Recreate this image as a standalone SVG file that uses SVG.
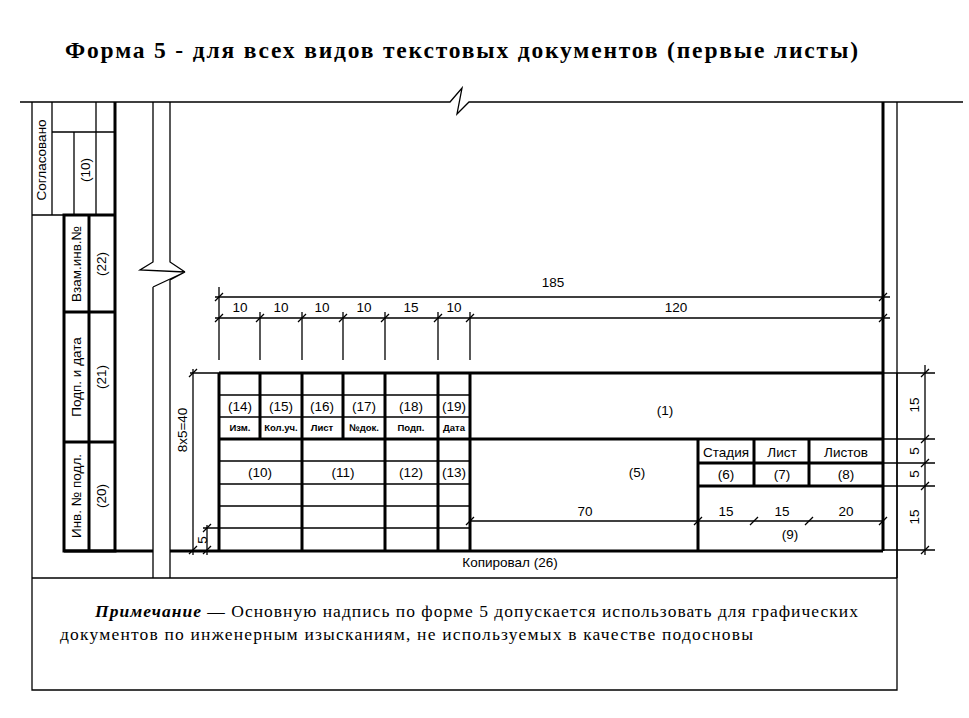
<svg xmlns="http://www.w3.org/2000/svg" width="969" height="718" viewBox="0 0 969 718">
<style>
.t{stroke:#000;stroke-width:1.3;fill:none}
.k{stroke:#000;stroke-width:3;fill:none}
.s{font-family:"Liberation Sans",Arial,sans-serif;font-size:13.5px;fill:#000;text-anchor:middle}
.sm{font-family:"Liberation Sans",Arial,sans-serif;font-size:9.5px;font-weight:bold;fill:#000;text-anchor:middle}
.f{font-family:"Liberation Serif","Times New Roman",serif;font-size:17.5px;fill:#000}
</style>
<rect width="969" height="718" fill="#fff"/>
<text x="65" y="58" font-family="Liberation Serif,serif" font-weight="bold" font-size="23.5" textLength="793">Форма 5 - для всех видов текстовых документов (первые листы)</text>
<g id="frame">
<path class="t" d="M20,102 H450 L462,88 L457,114 L469,102 H963"/>
<path class="t" d="M32,102 V690 H897 V102"/>
<path class="t" d="M32,578 H897"/>
<path class="k" d="M883,102 V551"/>
<path class="t" d="M153,102 V262 L140,270 L185,272 L153,287 M170,102 V262 L185,272 M153,287 V578 M170,280 V578 M170,280 L185,272"/>
</g>
<g id="leftstrip">
<path class="t" d="M52,102 V215 M52,132 H115 M74,132 V215 M96,102 V215 M32,215 H64"/>
<path class="k" d="M115,102 V551 M64,215 H115 V551 H64 Z M89,215 V551 M64,312 H115 M64,442 H115"/>
<path class="k" d="M64,551 H153 M170,551 H883"/>
<g class="s"><text transform="translate(46,160) rotate(-90)">Согласовано</text>
<text transform="translate(90,170) rotate(-90)">(10)</text>
<text transform="translate(81,264) rotate(-90)">Взам.инв.№</text>
<text transform="translate(106,264) rotate(-90)">(22)</text>
<text transform="translate(81,377) rotate(-90)">Подп. и дата</text>
<text transform="translate(106,377) rotate(-90)">(21)</text>
<text transform="translate(81,496) rotate(-90)">Инв. № подл.</text>
<text transform="translate(106,496) rotate(-90)">(20)</text></g>
</g>
<g id="table">
<path class="k" d="M219,373 H883 M219,373 V551 M470,373 V551 M219,439 H883 M698,439 V551 M698,463 H883 M698,486 H883 M754,439 V486 M809,439 V486"/>
<path class="k" d="M260,373 V439 M302,373 V551 M343,373 V439 M385,373 V551 M438,373 V551"/>
<path class="t" d="M219,395 H470 M219,417 H470 M219,461 H470 M219,484 H470 M219,506 H470 M219,528 H470"/>
<g class="s"><text x="240" y="411">(14)</text><text x="281" y="411">(15)</text><text x="322" y="411">(16)</text><text x="364" y="411">(17)</text><text x="411" y="411">(18)</text><text x="454" y="411">(19)</text>
<text x="260" y="477">(10)</text><text x="343" y="477">(11)</text><text x="411" y="477">(12)</text><text x="454" y="477">(13)</text>
<text x="665" y="415">(1)</text><text x="637" y="477">(5)</text>
<text x="726" y="457">Стадия</text><text x="782" y="457">Лист</text><text x="846" y="457">Листов</text>
<text x="726" y="479">(6)</text><text x="782" y="479">(7)</text><text x="846" y="479">(8)</text>
<text x="790" y="539">(9)</text>
<text x="510" y="567">Копировал (26)</text></g>
<g class="sm"><text x="240" y="431">Изм.</text><text x="281" y="431">Кол.уч.</text><text x="322" y="431">Лист</text><text x="364" y="431">№док.</text><text x="411" y="431">Подп.</text><text x="454" y="431">Дата</text></g>
</g>
<g id="dims">
<path class="t" d="M215,297 H890 M215,318 H890 M219,287 V360 M260,312 V360 M302,312 V360 M343,312 V360 M385,312 V360 M438,312 V360 M470,312 V360"/>
<path class="t" d="M470,521 H883"/>
<path class="t" d="M193,369 V555 M190,373 H219 M207,525 V555 M203,528 H219"/>
<path class="t" d="M925,365 V555 M883,373 H935 M883,439 H935 M883,463 H935 M883,486 H935 M883,550 H935 M897,373 V578"/>
<path class="t" stroke-width="2" d="M215,301 L223,293 M215,322 L223,314 M256,322 L264,314 M298,322 L306,314 M339,322 L347,314 M381,322 L389,314 M434,322 L442,314 M466,322 L474,314 M879,301 L887,293 M879,322 L887,314 M466,525 L474,517 M694,525 L702,517 M750,525 L758,517 M805,525 L813,517 M879,525 L887,517 M189,377 L197,369 M189,554 L197,546 M203,532 L211,524 M203,554 L211,546 M921,377 L929,369 M921,443 L929,435 M921,467 L929,459 M921,490 L929,482 M921,554 L929,546"/>
<g class="s"><text x="553" y="287">185</text><text x="240" y="312">10</text><text x="281" y="312">10</text><text x="322" y="312">10</text><text x="364" y="312">10</text><text x="411" y="312">15</text><text x="454" y="312">10</text><text x="676" y="312">120</text>
<text x="585" y="516">70</text><text x="726" y="516">15</text><text x="782" y="516">15</text><text x="846" y="516">20</text>
<text transform="translate(187,430) rotate(-90)">8x5=40</text><text transform="translate(207,540) rotate(-90)">5</text>
<text transform="translate(919,405) rotate(-90)">15</text><text transform="translate(919,451) rotate(-90)">5</text><text transform="translate(919,474) rotate(-90)">5</text><text transform="translate(919,517) rotate(-90)">15</text></g>
</g>
<text class="f" x="95" y="617" textLength="763"><tspan font-weight="bold" font-style="italic">Примечание</tspan> — Основную надпись по форме 5 допускается использовать для графических</text>
<text class="f" x="60" y="640" textLength="693">документов по инженерным изысканиям, не используемых в качестве подосновы</text>
</svg>
